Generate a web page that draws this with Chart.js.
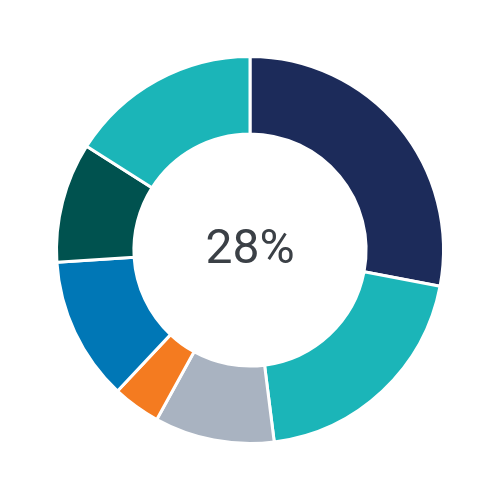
<!DOCTYPE html>
<html>
<head>
<meta charset="utf-8">
<script src="https://cdn.jsdelivr.net/npm/chart.js@4/dist/chart.umd.min.js"></script>
<style>
  html, body { margin: 0; padding: 0; background: #fff; }
  #wrap { width: 500px; height: 500px; }
</style>
</head>
<body>
<div id="wrap"><canvas id="chart"></canvas></div>
<script>
// Segment shares, clockwise from 12 o'clock
const labels = ['A', 'B', 'C', 'D', 'E', 'F', 'G'];
const values = [28, 20, 10, 4, 12, 10, 16];
const colors = ['#1c2b5a', '#1bb5b8', '#a9b3c1', '#f47b20', '#0077b6', '#00524f', '#1bb5b8'];
const centerLabel = '28%';

// Draws the big number in the hole
const centerText = {
    id: 'centerText',
    afterDraw(chart) {
        const meta = chart.getDatasetMeta(0).data[0];
        if (!meta) return;
        const ctx = chart.ctx;
        ctx.save();
        ctx.font = '400 48px Roboto, "Liberation Sans", sans-serif';
        ctx.fillStyle = '#3b4046';
        ctx.textAlign = 'center';
        ctx.textBaseline = 'middle';
        ctx.fillText(centerLabel, meta.x, meta.y + 1);
        ctx.restore();
    }
};

new Chart(document.getElementById('chart'), {
    type: 'doughnut',
    data: {
        labels: labels,
        datasets: [{
            data: values,
            backgroundColor: colors,
            borderColor: '#ffffff',
            borderWidth: 3,
            hoverOffset: 0,
        }]
    },
    options: {
        responsive: true,
        maintainAspectRatio: false,
        animation: false,
        cutout: '60%',
        layout: { padding: 55 },
        plugins: {
            legend: { display: false },
            tooltip: { enabled: false },
        },
    },
    plugins: [centerText],
});
</script>
</body>
</html>
